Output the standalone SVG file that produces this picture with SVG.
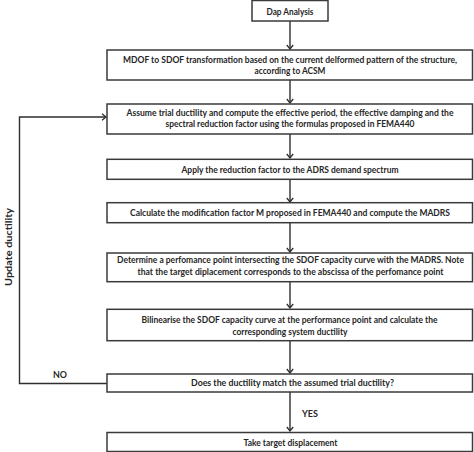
<svg xmlns="http://www.w3.org/2000/svg" width="474" height="452" viewBox="0 0 474 452">
<style>
.box{fill:#fff;stroke:#3a3a3a;stroke-width:1.5}
.t{font-family:Lato,"Open Sans","Liberation Sans",sans-serif;font-weight:700;font-size:8.5px;fill:#262626;text-anchor:middle}
.lbl{font-family:Lato,"Open Sans","Liberation Sans",sans-serif;font-weight:700;font-size:10px;fill:#262626;text-anchor:middle}
.c{fill:none;stroke:#2e2e2e;stroke-width:1.4}
</style>
<defs>
<marker id="ah" markerUnits="userSpaceOnUse" markerWidth="12" markerHeight="12" refX="0" refY="0" viewBox="-6 -6 12 12" orient="auto" overflow="visible">
<path d="M-4,-3.2 L0,0 L-4,3.2" fill="none" stroke="#2e2e2e" stroke-width="1.3"/>
</marker>
</defs>
<rect width="474" height="452" fill="#fff"/>
<g id="connectors">
<line class="c" x1="290" y1="21" x2="290" y2="49" marker-end="url(#ah)"/>
<line class="c" x1="290" y1="80" x2="290" y2="103" marker-end="url(#ah)"/>
<line class="c" x1="290" y1="134" x2="290" y2="158" marker-end="url(#ah)"/>
<line class="c" x1="290" y1="179" x2="290" y2="202" marker-end="url(#ah)"/>
<line class="c" x1="290" y1="223" x2="290" y2="252" marker-end="url(#ah)"/>
<line class="c" x1="290" y1="282" x2="290" y2="308" marker-end="url(#ah)"/>
<line class="c" x1="290" y1="341" x2="290" y2="373" marker-end="url(#ah)"/>
<line class="c" x1="290" y1="392" x2="290" y2="431" marker-end="url(#ah)"/>
<polyline class="c" points="107,383.5 19.5,383.5 19.5,117 106,117" marker-end="url(#ah)"/>
<text class="lbl" x="60" y="378" textLength="14" lengthAdjust="spacingAndGlyphs">NO</text>
<text class="lbl" x="310" y="417" textLength="16" lengthAdjust="spacingAndGlyphs">YES</text>
<text class="lbl" transform="translate(11.5,247) rotate(-90)" x="0" y="0" textLength="78" lengthAdjust="spacingAndGlyphs">Update ductility</text>
</g>
<g id="n1">
<rect class="box" x="252" y="0.5" width="76" height="20.5"/>
<text class="t" x="290" y="15" textLength="47" lengthAdjust="spacingAndGlyphs">Dap Analysis</text>
</g>
<g id="n2">
<rect class="box" x="107" y="50" width="365.5" height="30"/>
<text class="t" x="290" y="63" textLength="334" lengthAdjust="spacingAndGlyphs">MDOF to SDOF transformation based on the current delformed pattern of the structure,</text>
<text class="t" x="290" y="73.7" textLength="71" lengthAdjust="spacingAndGlyphs">according to ACSM</text>
</g>
<g id="n3">
<rect class="box" x="107" y="104" width="365.5" height="30"/>
<text class="t" x="290" y="116.3" textLength="327" lengthAdjust="spacingAndGlyphs">Assume trial ductility and compute the effective period, the effective damping and the</text>
<text class="t" x="290" y="127" textLength="249" lengthAdjust="spacingAndGlyphs">spectral reduction factor using the formulas proposed in FEMA440</text>
</g>
<g id="n4">
<rect class="box" x="107" y="159.3" width="365.5" height="20"/>
<text class="t" x="290" y="173" textLength="217" lengthAdjust="spacingAndGlyphs">Apply the reduction factor to the ADRS demand spectrum</text>
</g>
<g id="n5">
<rect class="box" x="107" y="202.7" width="365.5" height="20"/>
<text class="t" x="290" y="216.3" textLength="320" lengthAdjust="spacingAndGlyphs">Calculate the modification factor M proposed in FEMA440 and compute the MADRS</text>
</g>
<g id="n6">
<rect class="box" x="107" y="253" width="365.5" height="28.7"/>
<text class="t" x="290.5" y="263" textLength="347" lengthAdjust="spacingAndGlyphs">Determine a perfomance point intersecting the SDOF capacity curve with the MADRS. Note</text>
<text class="t" x="290.5" y="275" textLength="306" lengthAdjust="spacingAndGlyphs">that the target diplacement corresponds to the abscissa of the perfomance point</text>
</g>
<g id="n7">
<rect class="box" x="107" y="309.3" width="365.5" height="31.4"/>
<text class="t" x="289.5" y="323" textLength="296" lengthAdjust="spacingAndGlyphs">Bilinearise the SDOF capacity curve at the performance point and calculate the</text>
<text class="t" x="290" y="334.7" textLength="115" lengthAdjust="spacingAndGlyphs">corresponding system ductility</text>
</g>
<g id="n8">
<rect class="box" x="107" y="374" width="365.5" height="18"/>
<text class="t" x="292.5" y="386.3" textLength="203" lengthAdjust="spacingAndGlyphs">Does the ductility match the assumed trial ductility?</text>
</g>
<g id="n9">
<rect class="box" x="107" y="432.5" width="365.5" height="19"/>
<text class="t" x="290.5" y="445.7" textLength="94" lengthAdjust="spacingAndGlyphs">Take target displacement</text>
</g>
</svg>
